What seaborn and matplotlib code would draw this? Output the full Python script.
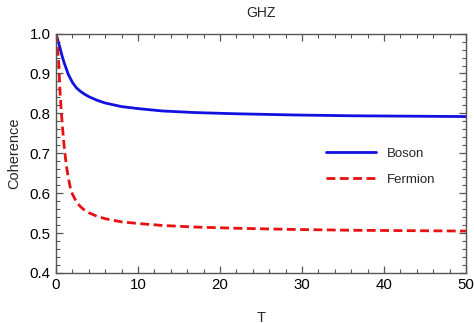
import matplotlib
matplotlib.use("Agg")
import matplotlib.pyplot as plt
import seaborn as sns
import pandas as pd
from matplotlib.ticker import MultipleLocator

# Data
boson_T = [0, 0.12, 0.25, 0.5, 0.75, 1, 1.5, 2, 2.5, 3, 3.5, 4, 5, 6, 8, 10, 13, 17, 22, 29, 36, 43, 50]
boson_C = [1.0, 0.992, 0.982, 0.964, 0.944, 0.927, 0.898, 0.878, 0.864, 0.855, 0.848, 0.842, 0.833, 0.826, 0.817, 0.812, 0.806, 0.802, 0.799, 0.796, 0.794, 0.793, 0.792]
fermion_T = [0, 0.1, 0.2, 0.33, 0.5, 0.65, 0.8, 1, 1.15, 1.3, 1.5, 1.75, 2, 2.5, 3, 3.5, 4, 5, 6, 8, 10, 13, 17, 22, 29, 36, 43, 50]
fermion_C = [1.0, 0.99, 0.965, 0.93, 0.855, 0.805, 0.765, 0.718, 0.69, 0.665, 0.64, 0.614, 0.598, 0.578, 0.566, 0.557, 0.551, 0.542, 0.536, 0.528, 0.524, 0.519, 0.515, 0.512, 0.509, 0.507, 0.506, 0.505]
series_names = ["Boson", "Fermion"]
title = "GHZ"
x_label = "T"
y_label = "Coherence"
x_ticks = [0, 10, 20, 30, 40, 50]
y_ticks = [0.4, 0.5, 0.6, 0.7, 0.8, 0.9, 1.0]

df = pd.concat([
    pd.DataFrame({"T": boson_T, "C": boson_C, "series": series_names[0]}),
    pd.DataFrame({"T": fermion_T, "C": fermion_C, "series": series_names[1]}),
], ignore_index=True)

sns.set_style("ticks")
plt.rcParams["font.family"] = ["Liberation Sans", "DejaVu Sans"]

fig = plt.figure(figsize=(4.74, 3.23), dpi=100)
ax = fig.add_axes([0.118, 0.155, 0.865, 0.741])

sns.lineplot(data=df, x="T", y="C", hue="series", style="series",
             palette={"Boson": "#1010e0", "Fermion": "#e81010"},
             dashes={"Boson": "", "Fermion": (3.2, 1.6)},
             linewidth=2.0, ax=ax, legend=True)

ax.set_xlim(0, 50)
ax.set_ylim(0.4, 1.0)
ax.set_xticks(x_ticks)
ax.set_yticks(y_ticks)
ax.set_xticklabels([str(t) for t in x_ticks])
ax.set_yticklabels([f"{t:.1f}" for t in y_ticks])
ax.xaxis.set_minor_locator(MultipleLocator(2))
ax.yaxis.set_minor_locator(MultipleLocator(0.02))

frame_col = "#555555"
for s in ax.spines.values():
    s.set_color(frame_col)
    s.set_linewidth(1.0)
ax.tick_params(which="both", direction="in", top=True, right=True, color=frame_col,
               labelsize=10.8, labelcolor="black", pad=4)
ax.tick_params(which="major", length=5, width=0.9)
ax.tick_params(which="minor", length=2.8, width=0.8)

ax.set_xlabel(x_label, fontsize=10.5, labelpad=13)
ax.set_ylabel(y_label, fontsize=10.5, labelpad=6)
ax.set_title(title, fontsize=10, pad=12)

leg = ax.legend(loc="center left", bbox_to_anchor=(0.63, 0.443), frameon=False,
                fontsize=9.5, handlelength=3.8, handletextpad=0.8, labelspacing=1.05)

fig.savefig("out.png", dpi=100)
